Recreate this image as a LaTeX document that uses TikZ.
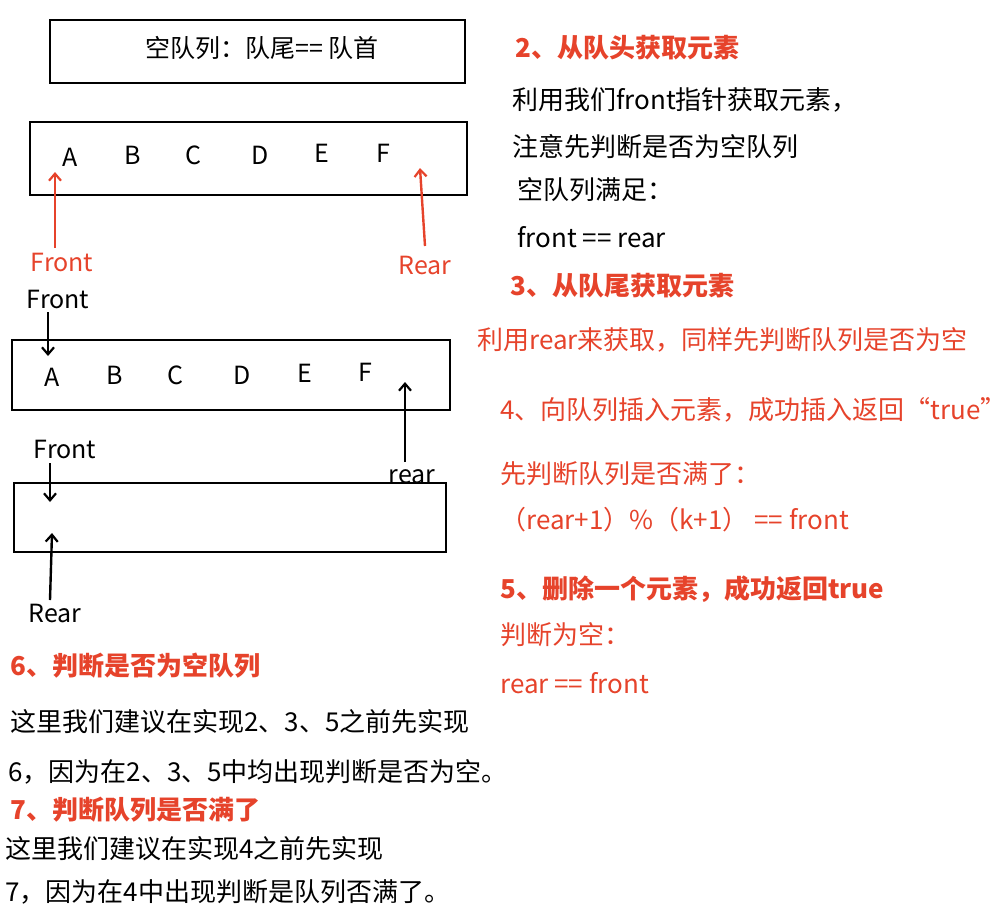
\documentclass[tikz,border=0pt]{standalone}
\usepackage{fontspec}
\setmainfont{Noto Sans CJK SC}
\usetikzlibrary{arrows.meta}
\definecolor{rd}{HTML}{E6432B}
\begin{document}
\begin{tikzpicture}[x=1pt,y=-1pt,
  box/.style={draw,line width=2.6pt},
  tx/.style={anchor=west,inner sep=0pt,font=\fontsize{26}{28}\selectfont},
  rt/.style={tx,text=rd},
  rh/.style={tx,text=rd,font=\fontsize{26}{28}\selectfont\bfseries},
  lt/.style={inner sep=0pt,font=\fontsize{25}{28}\selectfont},
  ar/.style={line width=2.4pt,-{Straight Barb[length=7pt,width=12pt,line width=2.2pt]}},
  rar/.style={ar,draw=rd}]
\useasboundingbox (0,0) rectangle (1004,922);
\draw[box] (50,20) rectangle (465,83);
\node[lt] (t0) at (262,48) {空队列：队尾== 队首};
\draw[box] (30,122) rectangle (467,195);
\foreach \l/\x/\y in {A/70/157,B/133/155,C/193/155,D/260/155,E/322/153,F/383/153}
  \node[lt] (r2\l) at (\x,\y) {\l};
\node[lt,text=rd] (f1) at (62,262) {Front};
\node[lt,text=rd] (r1) at (425,265) {Rear};
\coordinate (f1s) at (55,248); \coordinate (f1e) at (55,172);
\coordinate (r1s) at (425,246); \coordinate (r1e) at (420,168);
\draw[rar] (f1s) -- (f1e);
\draw[rar] (r1s) -- (r1e);
\node[lt] (f2) at (58,299) {Front};
\coordinate (f2s) at (48,312); \coordinate (f2e) at (48,356);
\draw[ar] (f2s) -- (f2e);
\draw[box] (12,340) rectangle (450,410);
\foreach \l/\x/\y in {A/52/377,B/115/375,C/175/375,D/242/375,E/305/373,F/365/372}
  \node[lt] (r3\l) at (\x,\y) {\l};
\node[lt] (rr3) at (412,477) {rear};
\coordinate (r3s) at (405,462); \coordinate (r3e) at (405,382);
\draw[ar] (r3s) -- (r3e);
\node[lt] (f3) at (65,449) {Front};
\coordinate (f3s) at (50,463); \coordinate (f3e) at (50,502);
\draw[ar] (f3s) -- (f3e);
\draw[box] (14,483) rectangle (446,552);
\coordinate (r4s) at (50,600); \coordinate (r4e) at (52,533);
\draw[ar] (r4s) -- (r4e);
\node[lt] (r4) at (55,613) {Rear};
\node[rh] (a1) at (515,48) {2、从队头获取元素};
\node[tx] (a2) at (512,100) {利用我们front指针获取元素，};
\node[tx] (a3) at (512,147) {注意先判断是否为空队列};
\node[tx] (a4) at (517,190) {空队列满足：};
\node[tx] (a5) at (517,237) {front == rear};
\node[rh] (b1) at (510,286) {3、从队尾获取元素};
\node[rt] (b2) at (477,340) {利用rear来获取，同样先判断队列是否为空};
\node[rt] (c1) at (500,410) {4、向队列插入元素，成功插入返回“true”};
\node[rt] (c2) at (500,474) {先判断队列是否满了：};
\node[rt] (c3) at (500,520) {（rear+1）\%（k+1） == front};
\node[rh] (d1) at (500,589) {5、删除一个元素，成功返回true};
\node[rt] (d2) at (500,635) {判断为空：};
\node[rt] (d3) at (500,683) {rear == front};
\node[rh] (e1) at (10,666) {6、判断是否为空队列};
\node[tx] (e2) at (10,722) {这里我们建议在实现2、3、5之前先实现};
\node[tx] (e3) at (8,772) {6，因为在2、3、5中均出现判断是否为空。};
\node[rh] (g1) at (10,810) {7、判断队列是否满了};
\node[tx] (g2) at (5,849) {这里我们建议在实现4之前先实现};
\node[tx] (g3) at (5,892) {7，因为在4中出现判断是队列否满了。};
\end{tikzpicture}
\end{document}
